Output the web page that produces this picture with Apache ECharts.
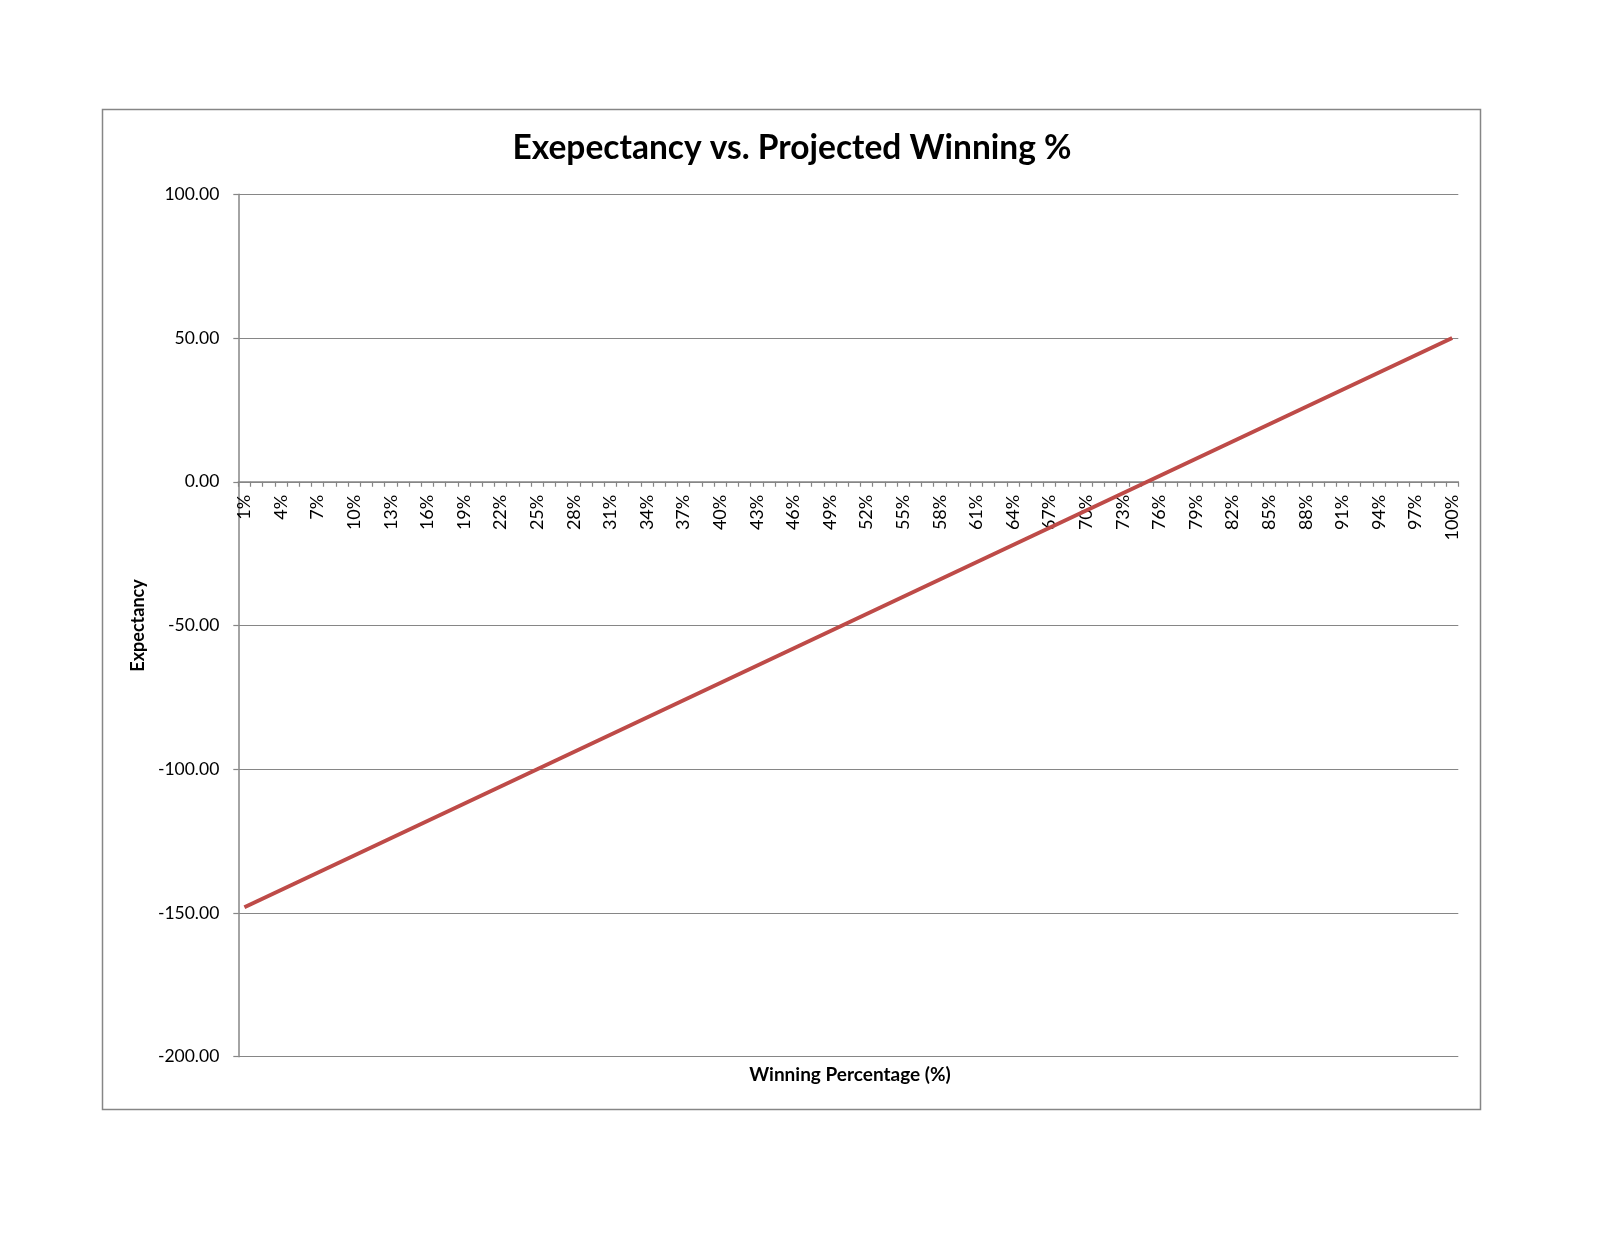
<!DOCTYPE html>
<html>
<head>
<meta charset="utf-8">
<script src="https://cdn.jsdelivr.net/npm/echarts@6/dist/echarts.min.js"></script>
<style>
html, body { margin: 0; padding: 0; background: #fff; }
#chart { width: 1600px; height: 1236px; }
</style>
</head>
<body>
<div id="chart"></div>
<script>
var categories = ['1%','2%','3%','4%','5%','6%','7%','8%','9%','10%',
	'11%','12%','13%','14%','15%','16%','17%','18%','19%','20%',
	'21%','22%','23%','24%','25%','26%','27%','28%','29%','30%',
	'31%','32%','33%','34%','35%','36%','37%','38%','39%','40%',
	'41%','42%','43%','44%','45%','46%','47%','48%','49%','50%',
	'51%','52%','53%','54%','55%','56%','57%','58%','59%','60%',
	'61%','62%','63%','64%','65%','66%','67%','68%','69%','70%',
	'71%','72%','73%','74%','75%','76%','77%','78%','79%','80%',
	'81%','82%','83%','84%','85%','86%','87%','88%','89%','90%',
	'91%','92%','93%','94%','95%','96%','97%','98%','99%','100%'];

var expectancy = [-148,-146,-144,-142,-140,-138,-136,-134,-132,-130,
	-128,-126,-124,-122,-120,-118,-116,-114,-112,-110,
	-108,-106,-104,-102,-100,-98,-96,-94,-92,-90,
	-88,-86,-84,-82,-80,-78,-76,-74,-72,-70,
	-68,-66,-64,-62,-60,-58,-56,-54,-52,-50,
	-48,-46,-44,-42,-40,-38,-36,-34,-32,-30,
	-28,-26,-24,-22,-20,-18,-16,-14,-12,-10,
	-8,-6,-4,-2,0,2,4,6,8,10,
	12,14,16,18,20,22,24,26,28,30,
	32,34,36,38,40,42,44,46,48,50];

var chart = echarts.init(document.getElementById('chart'));
var font = 'Lato, "Open Sans", sans-serif';
var grey = '#868686';

// plot box
var gTop = 194.3, gBottom = 1056.7;
// the category axis sits on the zero line (Excel style), labels with it
var zeroY = gTop + (gBottom - gTop) / 3;

chart.setOption({
	backgroundColor: '#fff',
	animation: false,
	graphic: [
		{
			type: 'rect',
			shape: { x: 102.5, y: 109.5, width: 1378, height: 1000 },
			style: { fill: 'none', stroke: grey, lineWidth: 1.5 },
			silent: true
		},
		{
			type: 'text',
			x: 792,
			y: 148,
			style: {
				text: 'Exepectancy vs. Projected Winning %',
				font: 'bold 33.5px ' + font,
				fill: '#000',
				textAlign: 'center',
				textVerticalAlign: 'middle'
			}
		},
		{
			type: 'text',
			x: 850,
			y: 1075,
			style: {
				text: 'Winning Percentage (%)',
				font: 'bold 19px ' + font,
				fill: '#000',
				textAlign: 'center',
				textVerticalAlign: 'middle'
			}
		}
	],
	grid: { left: 238.3, right: 141.7, top: gTop, bottom: 1236 - gBottom },
	xAxis: {
		type: 'category',
		data: categories,
		boundaryGap: true,
		position: 'bottom',
		offset: -(gBottom - zeroY),
		axisLine: { onZero: false, lineStyle: { color: grey, width: 1.5 } },
		axisTick: { show: true, interval: 0, length: 5, lineStyle: { color: grey, width: 1.2 } },
		axisLabel: {
			interval: 2,
			rotate: 90,
			margin: 13,
			fontFamily: font,
			fontSize: 18,
			color: '#000'
		},
		splitLine: { show: false }
	},
	yAxis: {
		type: 'value',
		min: -200,
		max: 100,
		interval: 50,
		name: 'Expectancy',
		nameLocation: 'middle',
		nameRotate: 90,
		nameGap: 83,
		nameTextStyle: { fontFamily: font, fontSize: 18, fontWeight: 'bold', color: '#000' },
		axisLine: { show: true, lineStyle: { color: grey, width: 1.5 } },
		axisTick: { show: true, length: 5, lineStyle: { color: grey, width: 1.2 } },
		axisLabel: {
			margin: 19,
			fontFamily: font,
			fontSize: 17.5,
			color: '#000',
			formatter: function (v) { return v.toFixed(2); }
		},
		splitLine: { show: true, lineStyle: { color: grey, width: 1.2 } }
	},
	series: [{
		type: 'line',
		data: expectancy,
		symbol: 'none',
		lineStyle: { color: '#be4b48', width: 4 }
	}]
});
</script>
</body>
</html>
